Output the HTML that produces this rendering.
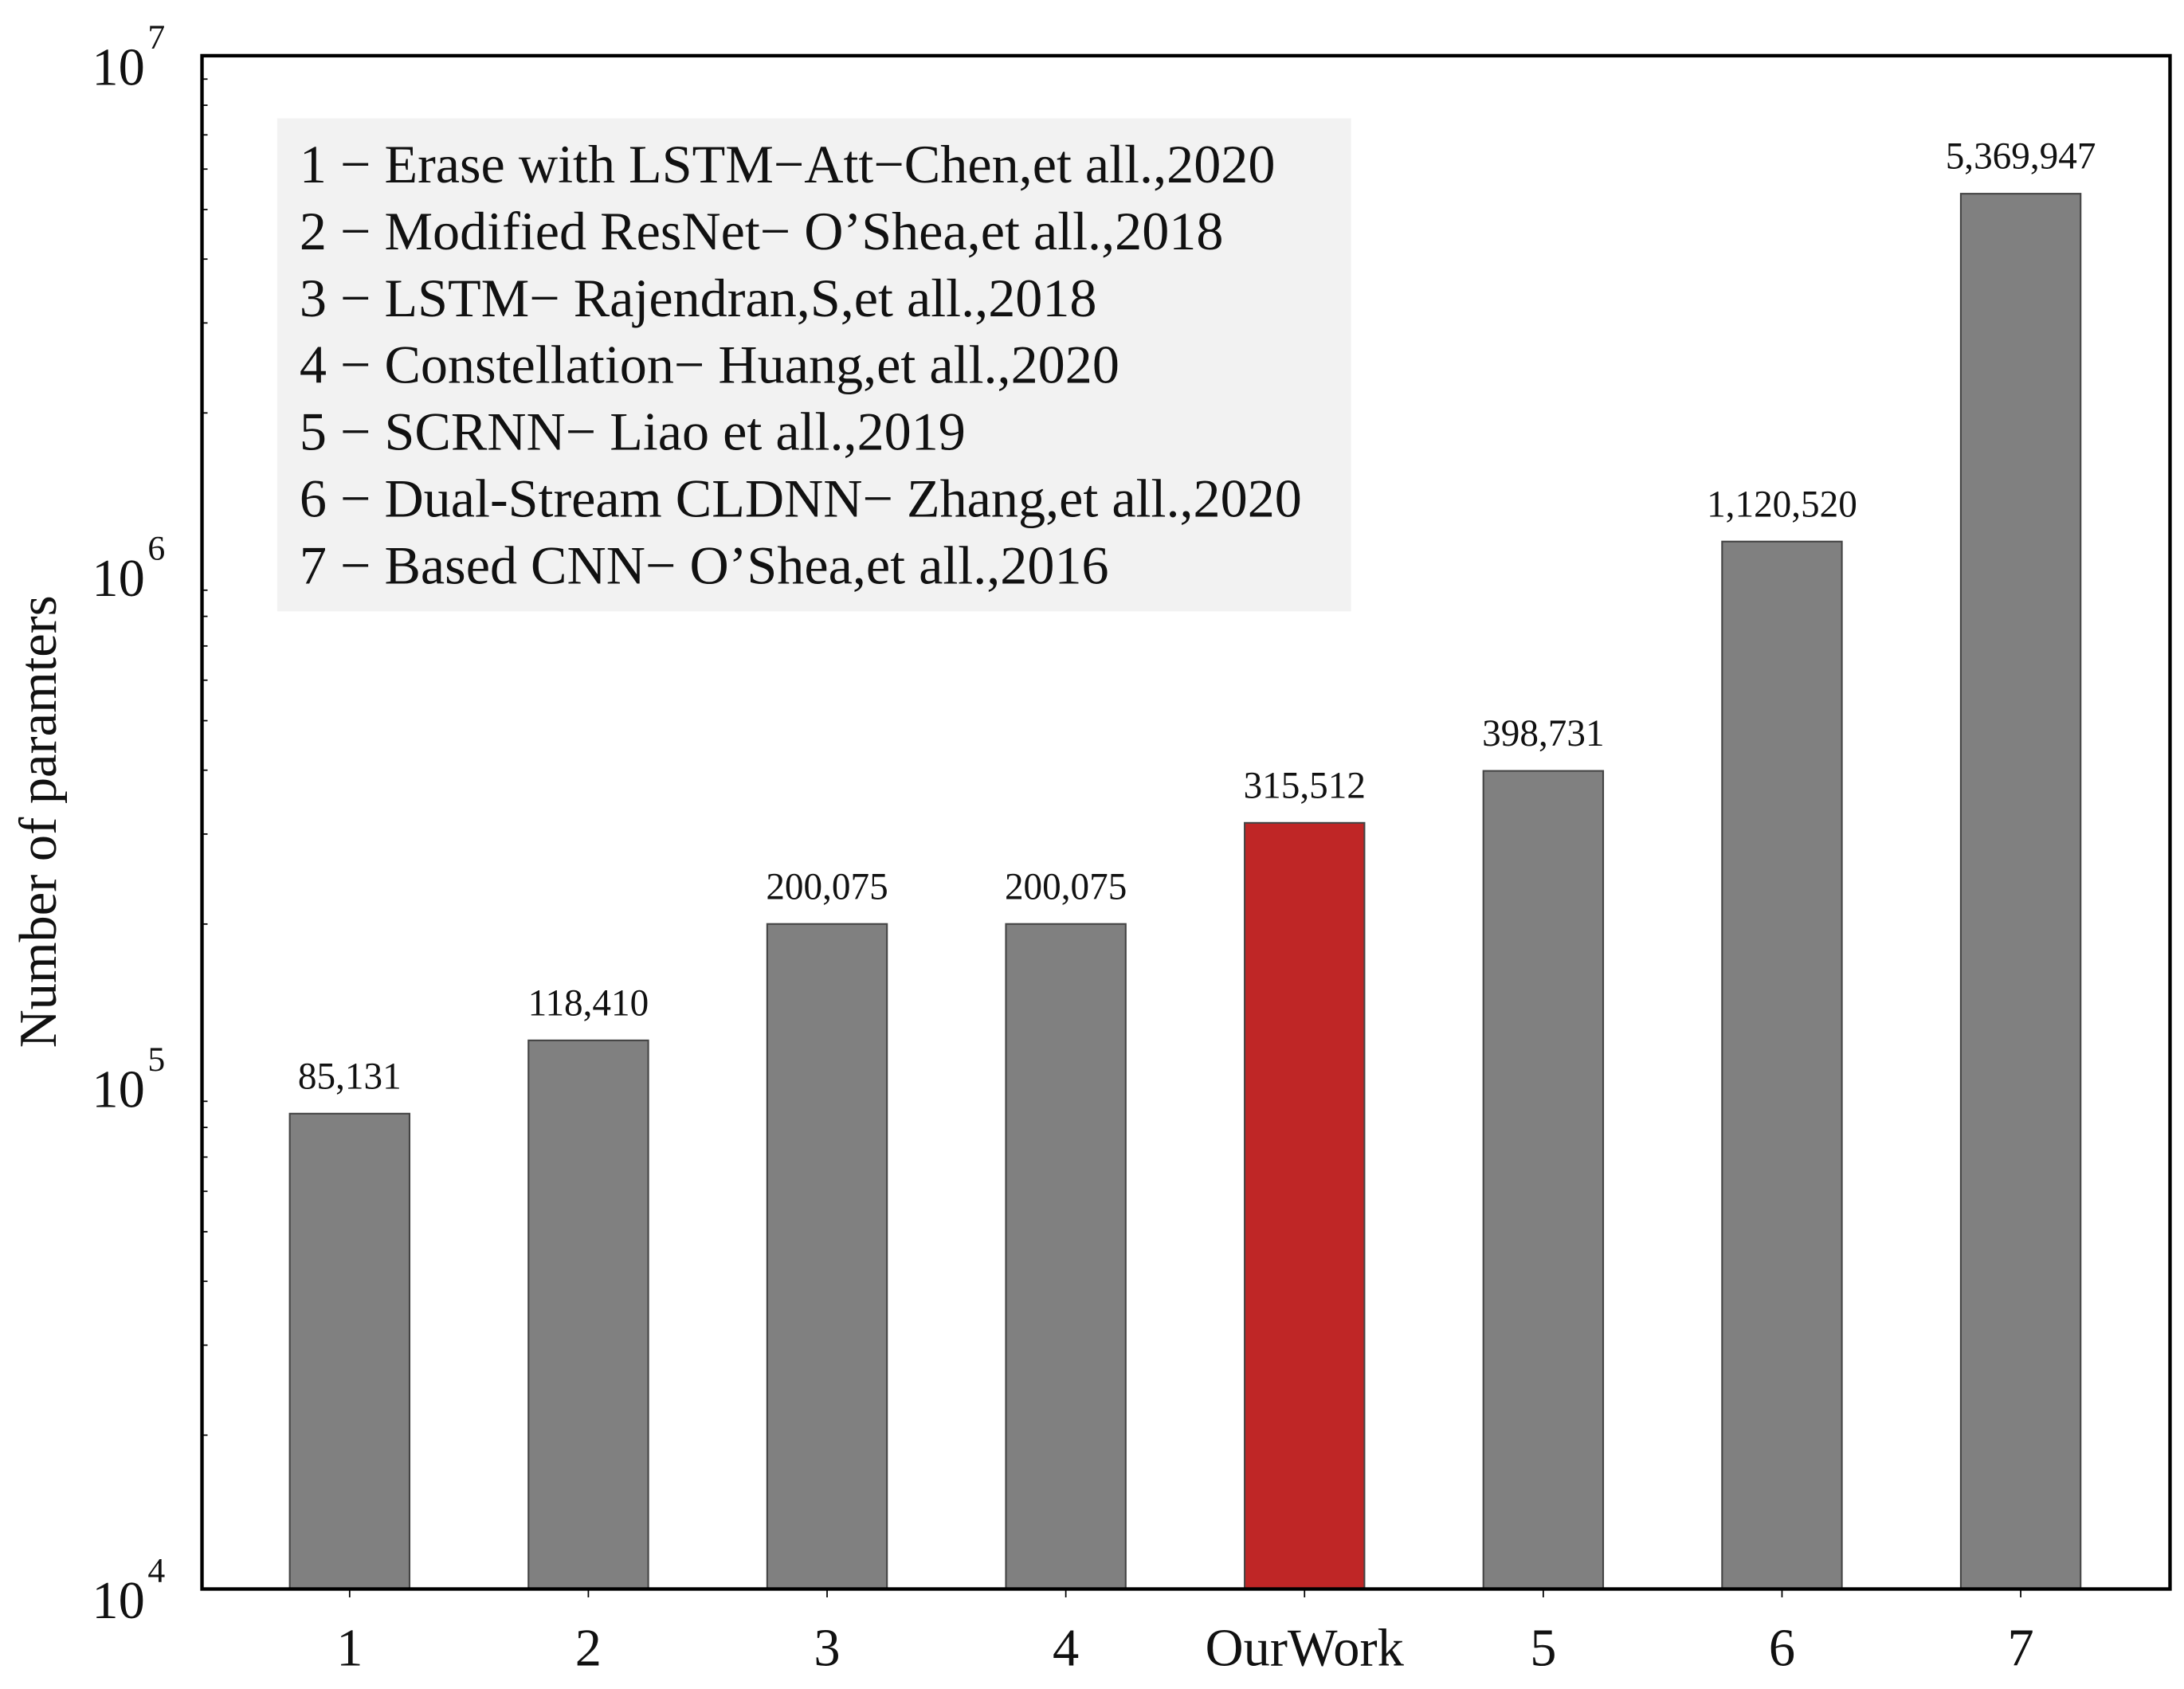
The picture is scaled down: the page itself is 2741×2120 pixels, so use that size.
<!DOCTYPE html>
<html><head><meta charset="utf-8"><style>html,body{margin:0;padding:0;background:#fff}svg{display:block}</style></head>
<body>
<svg id="chart" width="2741" height="2120" viewBox="0 0 1568 1212.8" xmlns="http://www.w3.org/2000/svg" font-family="'Liberation Serif', serif">
<rect x="199" y="85" width="771" height="354" fill="#f2f2f2"/>
<g id="legend" font-size="39" fill="#111">
<text x="215" y="131">1 − Erase with LSTM−Att−Chen,et all.,2020</text>
<text x="215" y="179">2 − Modified ResNet− O’Shea,et all.,2018</text>
<text x="215" y="227">3 − LSTM− Rajendran,S,et all.,2018</text>
<text x="215" y="275">4 − Constellation− Huang,et all.,2020</text>
<text x="215" y="323">5 − SCRNN− Liao et all.,2019</text>
<text x="215" y="371">6 − Dual-Stream CLDNN− Zhang,et all.,2020</text>
<text x="215" y="419">7 − Based CNN− O’Shea,et all.,2016</text>
</g>
<g id="bars"></g>
<g id="axes"></g>
<text transform="translate(40,590) rotate(-90)" text-anchor="middle" font-size="38" fill="#111">Number of paramters</text>
</svg>
<script>
const categories = ["1","2","3","4","OurWork","5","6","7"];
const values = [85131,118410,200075,200075,315512,398731,1120520,5369947];
const valueLabels = ["85,131","118,410","200,075","200,075","315,512","398,731","1,120,520","5,369,947"];
const yTickExps = [4,5,6,7];
const NS="http://www.w3.org/2000/svg";
const L=145,R=1558,T=40,B=1141,yMin=4,yMax=7;
function y(v){return B-(Math.log10(v)-yMin)/(yMax-yMin)*(B-T);}
function xc(i){return 251+i*171.4;}
const bw=86;
function mk(tag,attrs,parent){const e=document.createElementNS(NS,tag);for(const k in attrs)e.setAttribute(k,attrs[k]);parent.appendChild(e);return e;}
const bars=document.getElementById('bars'),axes=document.getElementById('axes');
categories.forEach((c,i)=>{
  const r=mk('rect',{x:xc(i)-bw/2,y:y(values[i]),width:bw,height:B-y(values[i]),fill:c==="OurWork"?"#bf2626":"#808080",stroke:"#444","stroke-width":1.2},bars);
  
  
  const t=mk('text',{x:xc(i),y:y(values[i])-18,"text-anchor":"middle","font-size":27,fill:"#111"},bars);
  t.textContent=valueLabels[i];
  
  
  const tk=mk('line',{x1:xc(i),x2:xc(i),y1:B,y2:B+6,stroke:"#000","stroke-width":1},axes);
  
  
  const xl=mk('text',{x:xc(i),y:1196,"text-anchor":"middle","font-size":38,fill:"#111"},axes);
  xl.textContent=c;
  
  
});
const fr=mk('rect',{x:L,y:T,width:R-L,height:B-T,fill:"none",stroke:"#000","stroke-width":2.5},axes);


yTickExps.forEach(e=>{
  const yy=y(Math.pow(10,e));
  const g=mk('text',{x:104,y:yy+21,"text-anchor":"end","font-size":38,fill:"#111"},axes);
  g.textContent="10";
  
  
  const s=mk('text',{x:106,y:yy-5,"font-size":25,fill:"#111"},axes);
  s.textContent=String(e);
  
  
  if(e<yMax){for(let m=2;m<10;m++){const my=y(m*Math.pow(10,e));
    const ml=mk('line',{x1:L,x2:L+4,y1:my,y2:my,stroke:"#000","stroke-width":1},axes);
    
    }}
});
</script>
</body></html>
